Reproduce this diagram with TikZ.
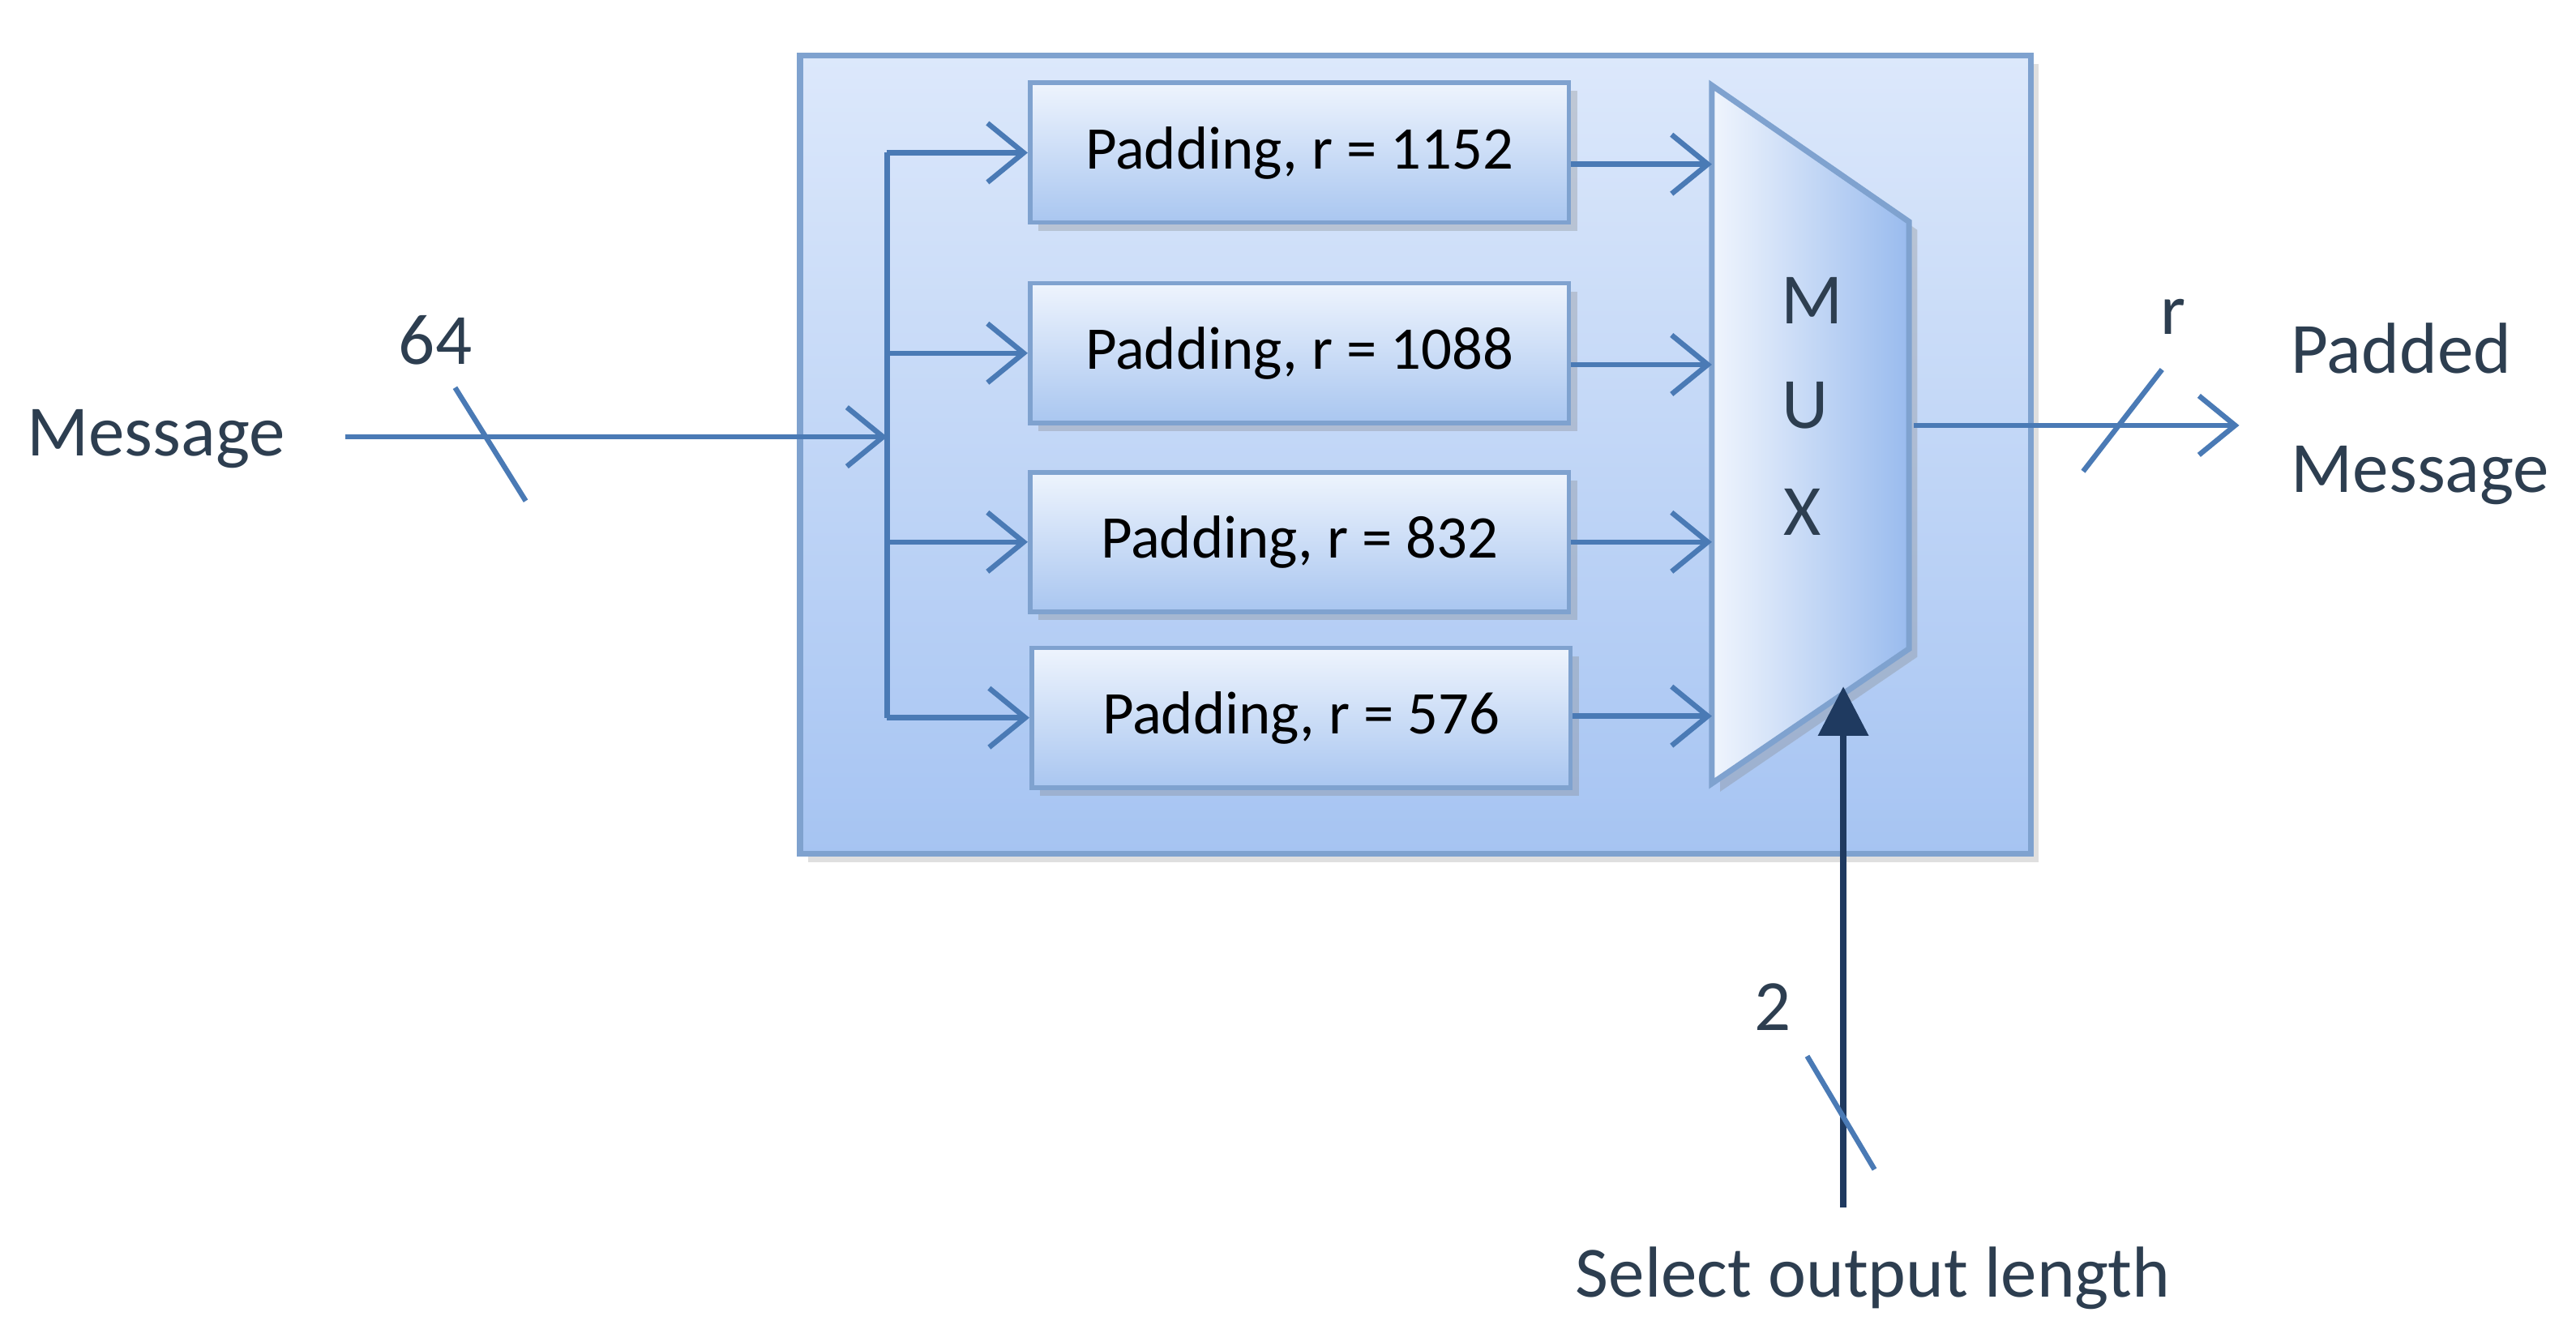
\documentclass[tikz,border=0pt]{standalone}
\usepackage{fontspec}
\setmainfont{Carlito}
\usetikzlibrary{arrows.meta,shadows}
\definecolor{wirec}{HTML}{4A7AB5}
\definecolor{ink}{HTML}{2D3E50}
\definecolor{edgeblue}{HTML}{7FA2CF}
\definecolor{seldark}{HTML}{1F3A60}
\begin{document}
\begin{tikzpicture}[x=0.1mm,y=-0.1mm,
  wire/.style={draw=wirec,line width=0.9pt},
  arr/.style={-{Straight Barb[length=2.2mm,width=3.6mm]}},
  lbl/.style={text=ink,font=\fontsize{12.5}{15}\selectfont},
  pad/.style={draw=edgeblue,line width=0.8pt,minimum width=32.8mm,minimum height=8.5mm,
    top color={rgb,255:red,238;green,244;blue,253},bottom color={rgb,255:red,169;green,198;blue,240},text=black,
    font=\fontsize{10.5}{13}\selectfont,drop shadow={opacity=0.3,shadow xshift=0.5mm,shadow yshift=-0.5mm}}]
\useasboundingbox (0,0) rectangle (1568,817);
% outer block
\draw[draw=edgeblue,line width=1pt,top color={rgb,255:red,220;green,232;blue,251},
  bottom color={rgb,255:red,166;green,196;blue,242},
  drop shadow={opacity=0.25,shadow xshift=0.5mm,shadow yshift=-0.5mm}] (487,34) rectangle (1236,520);
% padding units
\node[pad] (p1) at (791,93) {Padding, r = 1152};
\node[pad] (p2) at (791,215) {Padding, r = 1088};
\node[pad] (p3) at (791,330) {Padding, r = 832};
\node[pad] (p4) at (792,437) {Padding, r = 576};
% multiplexer
\draw[draw=edgeblue,line width=1pt,left color={rgb,255:red,240;green,245;blue,253},
  right color={rgb,255:red,153;green,187;blue,238},
  drop shadow={opacity=0.3,shadow xshift=0.5mm,shadow yshift=-0.5mm}] (1042,52) -- (1162,135) -- (1162,395) -- (1042,477) -- cycle;
\node[lbl] (m) at (1103,183) {M};
\node[lbl] (u) at (1099,247) {U};
\node[lbl] (x) at (1097,312) {X};
\coordinate (mi1) at (1042,100);
\coordinate (mi2) at (1042,222);
\coordinate (mi3) at (1042,330);
\coordinate (mi4) at (1042,436);
\coordinate (mo) at (1165,259);
\coordinate (ms) at (1122,418);
% input
\node[lbl] (msg) at (95,267) {Message};
\node[lbl] (w64) at (265,207) {64};
\coordinate (bus) at (540,266);
\coordinate (bt) at (540,93);
\coordinate (bb) at (540,437);
\draw[wire,arr] (210,266) -- (bus);
\draw[wire] (277,236) -- (320,305);
\draw[wire] (bt) -- (bb);
\foreach \p in {p1,p2,p3,p4}
  \draw[wire,arr] (bt |- \p.west) -- (\p.west);
\foreach \p/\m in {p1/mi1,p2/mi2,p3/mi3,p4/mi4}
  \draw[wire,arr] (\p.east |- \m) -- (\m);
% output
\node[lbl] (w_r) at (1323,193) {r};
\node[lbl,align=left,anchor=west,inner sep=0pt] (out) at (1394,252) {Padded\\[2mm]Message};
\draw[wire,arr] (mo) -- (1363,259);
\draw[wire] (1268,287) -- (1316,225);
% select
\node[lbl] (sel) at (1140,778) {Select output length};
\node[lbl] (w2) at (1079,613) {2};
\draw[line width=1.1pt,draw=seldark,-{Triangle[length=3mm,width=3mm]}] (1122,735) -- (ms);
\draw[wire] (1100,643) -- (1141,712);
\end{tikzpicture}
\end{document}
